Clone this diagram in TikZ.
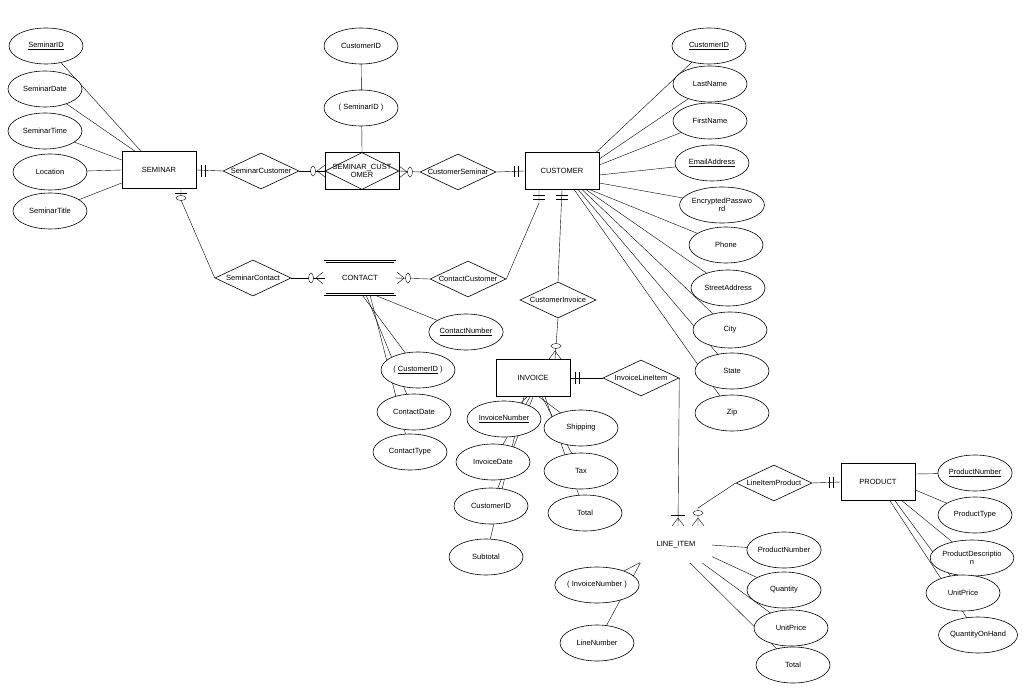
\documentclass[tikz,border=0pt]{standalone}
\usepackage{fontspec}
\setmainfont{Liberation Sans}
\usetikzlibrary{shapes.geometric}
\pgfdeclarelayer{bg}
\pgfsetlayers{bg,main}
\begin{document}
\begin{tikzpicture}[x=1pt,y=-1pt,line width=0.6pt,
  every node/.style={font=\fontsize{7.5}{8.5}\selectfont},
  attr/.style={draw,ellipse,fill=white,minimum width=74,minimum height=36,inner sep=0,align=center},
  ent/.style={draw,fill=white,minimum width=74,minimum height=37,inner sep=0,align=center},
  weak/.style={ent,double,double distance=1.6pt},
  rel/.style={draw,diamond,fill=white,minimum width=76,minimum height=36,inner sep=0},
  ul/.style={font=\fontsize{7.5}{8.5}\selectfont}]
\useasboundingbox (0,0) rectangle (1024,692);
% entities
\node[ent] (sem) at (159,170) {SEMINAR};
\node[ent] (scu) at (362,171) {};
\node[draw,diamond,minimum width=74,minimum height=37,inner sep=0] (scud) at (362,171) {};
\node[align=center] (scut) at (362,171) {SEMINAR\_CUST\\OMER};
\node[ent] (cus) at (562,171) {CUSTOMER};
\node[weak,minimum width=70,minimum height=33] (con) at (360,278) {CONTACT};
\node[ent] (inv) at (533,378) {INVOICE};
\node[weak,minimum width=70,minimum height=34] (li) at (676,545) {LINE\_ITEM};
\node[ent] (pro) at (878,482) {PRODUCT};
% relationships
\node[rel,label={center:SeminarCustomer}] (rsc) at (261,171) {};
\node[rel,label={center:CustomerSeminar}] (rcs) at (458,172) {};
\node[rel,label={center:SeminarContact}] (rsn) at (253,278) {};
\node[rel,label={center:ContactCustomer}] (rcc) at (468,279) {};
\node[rel,label={center:CustomerInvoice}] (rci) at (558,300) {};
\node[rel,label={center:InvoiceLineItem}] (ril) at (641,378) {};
\node[rel,label={center:LineItemProduct}] (rlp) at (774,483) {};
% attributes
\node[attr] (a1) at (46,46) {\underline{SeminarID}};
\node[attr] (a2) at (45,89) {SeminarDate};
\node[attr] (a3) at (45,131) {SeminarTime};
\node[attr] (a4) at (50,172) {Location};
\node[attr] (a5) at (50,211) {SeminarTitle};
\node[attr] (b1) at (361,46) {CustomerID};
\node[attr] (b2) at (361,108) {( SeminarID )};
\node[attr] (c1) at (709,46) {\underline{CustomerID}};
\node[attr] (c2) at (710,84) {LastName};
\node[attr] (c3) at (710,121) {FirstName};
\node[attr] (c4) at (712,163) {\underline{EmailAddress}};
\node[attr] (c5) at (722,205) {EncryptedPasswo\\rd};
\node[attr] (c6) at (726,245) {Phone};
\node[attr] (c7) at (728,288) {StreetAddress};
\node[attr] (c8) at (730,330) {City};
\node[attr] (c9) at (732,371) {State};
\node[attr] (c10) at (732,413) {Zip};
\node[attr] (d1) at (466,332) {\underline{ContactNumber}};
\node[attr] (d2) at (418,370) {( \underline{CustomerID} )};
\node[attr] (d3) at (414,412) {ContactDate};
\node[attr] (d4) at (410,452) {ContactType};
\node[attr] (e1) at (504,419) {\underline{InvoiceNumber}};
\node[attr] (e2) at (493,462) {InvoiceDate};
\node[attr] (e3) at (491,506) {CustomerID};
\node[attr] (e4) at (486,557) {Subtotal};
\node[attr] (e5) at (581,428) {Shipping};
\node[attr] (e6) at (581,471) {Tax};
\node[attr] (e7) at (585,513) {Total};
\node[attr] (f1) at (784,550) {ProductNumber};
\node[attr] (f2) at (784,590) {Quantity};
\node[attr] (f3) at (791,628) {UnitPrice};
\node[attr] (f4) at (793,665) {Total};
\node[attr] (f5) at (597,585) {( InvoiceNumber )};
\node[attr] (f6) at (597,643) {LineNumber};
\node[attr] (g1) at (975,473) {\underline{ProductNumber}};
\node[attr] (g2) at (975,515) {ProductType};
\node[attr] (g3) at (972,558) {ProductDescriptio\\n};
\node[attr] (g4) at (963,593) {UnitPrice};
\node[attr] (g5) at (978,635) {QuantityOnHand};
% attribute lines (behind)
\begin{pgfonlayer}{bg}
\draw (sem.north)+(-18,0) -- (a1.center);
\draw (sem.north)+(-24,0) -- (a2.center);
\draw (sem.west)+(0,-10) -- (a3.center);
\draw (sem.west) -- (a4.center);
\draw (sem.west)+(0,13) -- (a5.center);
\draw (scu.north) -- (b1.center);
\draw (cus.north east)+(-3,0) -- (c1.center);
\draw (cus.east)+(0,-12) -- (c2.center);
\draw (cus.east)+(0,-6) -- (c3.center);
\draw (cus.east)+(0,4) -- (c4.center);
\draw (cus.east)+(0,12) -- (c5.center);
\draw (cus.south east)+(-9,0) -- (c6.center);
\draw (cus.south east)+(-13,0) -- (c7.center);
\draw (cus.south east)+(-17,0) -- (c8.center);
\draw (cus.south east)+(-21,0) -- (c9.center);
\draw (cus.south east)+(-25,0) -- (c10.center);
\draw (con.south)+(14,0) -- (d1.center);
\draw (con.south)+(2,0) -- (d2.center);
\draw (con.south)+(6,0) -- (d3.center);
\draw (con.south)+(10,0) -- (d4.center);
\draw (inv.south)+(-6,0) -- (e1.center);
\draw (inv.south)+(-3,0) -- (e2.center);
\draw (inv.south)+(0,0) -- (e3.center);
\draw (inv.south)+(-9,0) -- (e4.center);
\draw (inv.south)+(6,0) -- (e5.center);
\draw (inv.south)+(9,0) -- (e6.center);
\draw (inv.south)+(12,0) -- (e7.center);
\draw (li.east) -- (f1.center);
\draw (li.south east)+(0,-6) -- (f2.center);
\draw (li.south east)+(-10,0) -- (f3.center);
\draw (li.south east)+(-22,0) -- (f4.center);
\draw (li.south west) -- (f5.center);
\draw (li.south west) -- (f6.center);
\draw (pro.east)+(0,-8) -- (g1.center);
\draw (pro.east)+(0,8) -- (g2.center);
\draw (pro.south)+(24,0) -- (g3.center);
\draw (pro.south)+(17,0) -- (g4.center);
\draw (pro.south)+(12,0) -- (g5.center);
\end{pgfonlayer}
% relationship connectors
\draw (sem.east) -- (rsc.west);
\draw (rsc.east) -- (scu.west);
\draw (scu.east) -- (rcs.west);
\draw (rcs.east) -- (cus.west);
\coordinate (sb) at (181,188);
\coordinate (sb2) at (181,200);
\draw (sb) -- (sb2) -- (rsn.west);
\draw (rsn.east) -- (con.west);
\draw (con.east) -- (rcc.west);
\coordinate (cb1) at (539,190);
\coordinate (cb1a) at (539,203);
\draw (rcc.east) -- (cb1a) -- (cb1);
\coordinate (cb2) at (562,190);
\draw (cb2) -- (rci.north);
\coordinate (it) at (555,359);
\draw (rci.south) -- (it);
\draw (inv.east) -- (ril.west);
\coordinate (lt1) at (678,526);
\draw (ril.east) -- (lt1);
\coordinate (lt2) at (698,526);
\coordinate (lt2a) at (698,508);
\draw (rlp.west) -- (lt2a) -- (lt2);
\draw (rlp.east) -- (pro.west);
% crow's foot marks
\draw (201,165) -- (201,177) (205,165) -- (205,177);
\draw[fill=white] (313,171) ellipse (2.5 and 5);
\draw (317,171) -- (325,165) (317,171) -- (325,177);
\draw (407,172) -- (399,166) (407,172) -- (399,178);
\draw[fill=white] (410,172) ellipse (2.5 and 5);
\draw (514,166) -- (514,177) (518,166) -- (518,177);
\draw (175,193) -- (187,193);
\draw[fill=white] (181,198) ellipse (5 and 2.5);
\draw[fill=white] (311,278) ellipse (2.5 and 5);
\draw (316,278) -- (323,272) (316,278) -- (323,284);
\draw (404,278) -- (397,272) (404,278) -- (397,284);
\draw[fill=white] (408,278) ellipse (2.5 and 5);
\draw (533,195) -- (545,195) (533,199) -- (545,199);
\draw (556,195) -- (568,195) (556,199) -- (568,199);
\draw[fill=white] (556,346) ellipse (5 and 2.5);
\draw (555,351) -- (549,359) (555,351) -- (561,359);
\draw (575,372) -- (575,384) (579,372) -- (579,384);
\draw (671,515) -- (685,515);
\draw (678,518) -- (672,526) (678,518) -- (684,526);
\draw[fill=white] (698,513) ellipse (5 and 2.5);
\draw (698,518) -- (692,526) (698,518) -- (704,526);
\draw (829,477) -- (829,488) (833,477) -- (833,488);
\end{tikzpicture}
\end{document}
